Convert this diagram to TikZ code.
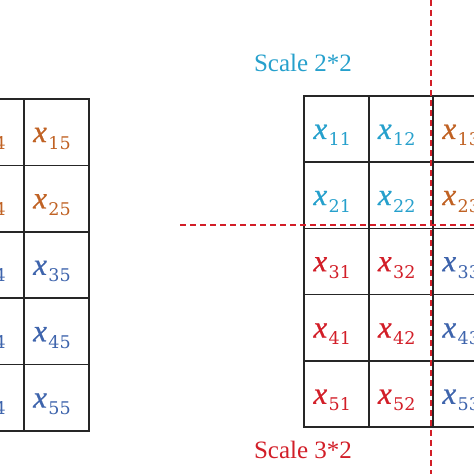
\documentclass[tikz,border=0pt]{standalone}
\usepackage{fontspec}
\setmainfont{Liberation Serif}
\newfontfamily\mfont[FakeBold=0.6]{Liberation Serif}
\newfontfamily\dfont{DejaVu Serif}
\definecolor{cy}{RGB}{38,160,204}
\definecolor{org}{RGB}{192,98,36}
\definecolor{blu}{RGB}{62,100,172}
\definecolor{rd}{RGB}{210,30,40}
\newcommand{\ent}[1]{{\mfont\fontsize{31}{31}\selectfont\itshape x}\kern1.5pt\raisebox{-7pt}{\dfont\fontsize{17.5}{18}\selectfont #1}}
\begin{document}
\begin{tikzpicture}[x=1pt,y=-1pt,
  cell/.style={draw=black!85, line width=1.6pt, minimum width=#1, minimum height=66.3pt, inner sep=0pt, outer sep=0pt},
  entry/.style={inner sep=0pt, anchor=base west},
  cut/.style={draw=rd, dash pattern=on 6pt off 4pt, line width=1.3pt},
  lab/.style={font=\fontsize{25}{30}\selectfont, inner sep=0pt}]
\useasboundingbox (0,0) rectangle (474,474);
\clip (0,0) rectangle (474,474);
% left grid
\foreach \i in {1,...,5}{
  \pgfmathsetmacro{\cyy}{99+66.4*(\i-0.5)}
  \ifnum\i<3 \def\col{org}\else\def\col{blu}\fi
  \foreach \j/\cx in {4/-8.5,5/56.5}{
    \node[cell=65pt] (L\i\j) at (\cx,\cyy) {};
    \node[entry,text=\col] (tL\i\j) at ([xshift=9pt,yshift=-43pt]L\i\j.north west) {\ent{\i\j}};
  }
}
% right grid
\foreach \i in {1,...,5}{
  \pgfmathsetmacro{\cyy}{96+66.2*(\i-0.5)}
  \ifnum\i<3 \def\col{cy}\def\colb{org}\else\def\col{rd}\def\colb{blu}\fi
  \foreach \j/\cx in {1/336.5,2/401,3/465.5}{
    \ifnum\j=3 \let\cc\colb\else\let\cc\col\fi
    \node[cell=64.5pt] (R\i\j) at (\cx,\cyy) {};
    \node[entry,text=\cc] (tR\i\j) at ([xshift=9pt,yshift=-43pt]R\i\j.north west) {\ent{\i\j}};
  }
}
% cut lines
\coordinate (vt) at (431,0);
\coordinate (vb) at (431,474);
\coordinate (hl) at (180,225);
\coordinate (hr) at (474,225);
\draw[cut] (vt) -- (vb);
\draw[cut] (hl) -- (hr);
% labels
\node[lab,text=cy] (s22) at (303,63) {Scale 2*2};
\node[lab,text=rd] (s32) at (303,450) {Scale 3*2};
\end{tikzpicture}
\end{document}
